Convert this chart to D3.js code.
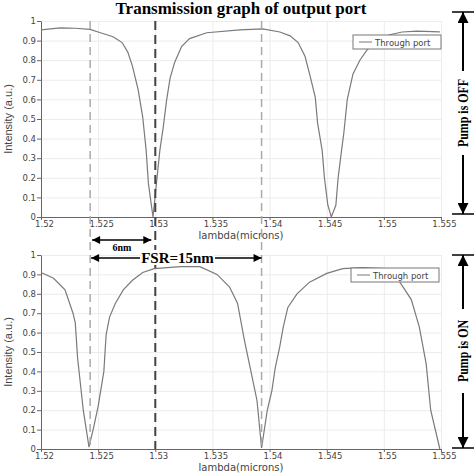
<!DOCTYPE html>
<html>
<head>
<meta charset="utf-8">
<script src="https://cdn.jsdelivr.net/npm/d3@7"></script>
<style>
  body { margin: 0; background: #fff; }
  svg { display: block; }
  .tick text { font-family: "DejaVu Sans", sans-serif; font-size: 8.5px; fill: #444; }
  .axis path, .axis line { stroke: #666; }
  .grid line { stroke: #ececec; }
  .grid path { display: none; }
</style>
</head>
<body>
<div class="viz"></div>
<script>
// wavelength (microns) and intensity, pump OFF
let offLambda = [1.5200, 1.5217, 1.5230, 1.5243, 1.5252, 1.5263, 1.5271, 1.5276, 1.5280, 1.5285,
	1.5289, 1.5292, 1.5294, 1.5298, 1.5301, 1.5304, 1.5307, 1.5310, 1.5313, 1.5317,
	1.5323, 1.5330, 1.5345, 1.5374, 1.5394, 1.5409, 1.5418, 1.5425, 1.5431, 1.5435,
	1.5440, 1.5442, 1.5446, 1.5448, 1.5451, 1.5454, 1.5458, 1.5460, 1.5463, 1.5465,
	1.5468, 1.5473, 1.5479, 1.5485, 1.5496, 1.5505, 1.5516, 1.5529, 1.5549];
let offIntensity = [0.955, 0.965, 0.963, 0.957, 0.94, 0.92, 0.89, 0.84, 0.77, 0.65,
	0.51, 0.34, 0.17, 0.0, 0.17, 0.34, 0.46, 0.60, 0.71, 0.79,
	0.87, 0.91, 0.94, 0.955, 0.96, 0.944, 0.924, 0.89, 0.82, 0.73,
	0.61, 0.48, 0.34, 0.20, 0.06, 0.0, 0.06, 0.20, 0.34, 0.43,
	0.60, 0.73, 0.80, 0.85, 0.91, 0.93, 0.944, 0.948, 0.945];

// pump ON
let onLambda = [1.5200, 1.5211, 1.5221, 1.5228, 1.5230, 1.5232, 1.5237, 1.5242, 1.5246, 1.5250,
	1.5255, 1.5257, 1.5260, 1.5265, 1.5272, 1.5280, 1.5289, 1.5299, 1.5322, 1.5339,
	1.5354, 1.5365, 1.5372, 1.5378, 1.5383, 1.5389, 1.5393, 1.5398, 1.5402, 1.5405,
	1.5409, 1.5412, 1.5416, 1.5424, 1.5435, 1.5450, 1.5464, 1.5481, 1.5501, 1.5514,
	1.5524, 1.5531, 1.5537, 1.5541, 1.5549];
let onIntensity = [0.91, 0.88, 0.82, 0.70, 0.65, 0.47, 0.20, 0.01, 0.11, 0.22,
	0.40, 0.59, 0.68, 0.75, 0.82, 0.87, 0.91, 0.93, 0.94, 0.94,
	0.90, 0.835, 0.75, 0.56, 0.42, 0.25, 0.005, 0.20, 0.30, 0.42,
	0.53, 0.63, 0.73, 0.80, 0.86, 0.905, 0.93, 0.935, 0.93, 0.86,
	0.77, 0.63, 0.44, 0.20, 0.0];

let xTicks = [1.52, 1.525, 1.53, 1.535, 1.54, 1.545, 1.55, 1.555];
let yTicks = [0, 0.1, 0.2, 0.3, 0.4, 0.5, 0.6, 0.7, 0.8, 0.9, 1];
// dashed guide lines: resonance with pump on, resonance with pump off, next resonance
let guides = [1.5243, 1.53, 1.5393];

let width = 474, height = 475;

let svg = d3.select('.viz').append('svg')
	.attr('width', width)
	.attr('height', height);

let x = d3.scaleLinear().domain([1.52, 1.555]).range([41, 441]);

let panels = [
	{ lambda: offLambda, value: offIntensity, y: d3.scaleLinear().domain([0, 1]).range([217, 21]), legendY: 35, legendX: 353 },
	{ lambda: onLambda, value: onIntensity, y: d3.scaleLinear().domain([0, 1]).range([449, 255]), legendY: 268, legendX: 351 }
];

let yFmt = d => d === 0 || d === 1 ? String(d) : d3.format('.1f')(d);
let xFmt = d => String(+d.toFixed(3));

panels.forEach(function(p) {
	let g = svg.append('g');
	let y = p.y;

	// grid
	g.append('g').attr('class', 'grid')
		.attr('transform', 'translate(0,' + y(0) + ')')
		.call(d3.axisBottom(x).tickValues(xTicks).tickSize(-(y(0) - y(1))).tickFormat(''));
	g.append('g').attr('class', 'grid')
		.attr('transform', 'translate(' + x(1.52) + ',0)')
		.call(d3.axisLeft(y).tickValues(yTicks).tickSize(-(x(1.555) - x(1.52))).tickFormat(''));

	// axes
	let ax = g.append('g').attr('class', 'axis')
		.attr('transform', 'translate(0,' + y(0) + ')')
		.call(d3.axisBottom(x).tickValues(xTicks).tickSize(3).tickSizeOuter(0).tickFormat(xFmt));
	ax.selectAll('.tick text').attr('dx', 3).attr('y', 4).attr('dy', '0.7em');

	let ay = g.append('g').attr('class', 'axis')
		.attr('transform', 'translate(' + x(1.52) + ',0)')
		.call(d3.axisLeft(y).tickValues(yTicks).tickSize(4).tickSizeOuter(0).tickFormat(yFmt));
	ay.selectAll('.tick text').attr('x', -5);

	// axis titles
	g.append('text')
		.attr('x', 241)
		.attr('y', y(0) + 22)
		.attr('text-anchor', 'middle')
		.style('font-family', 'DejaVu Sans, sans-serif')
		.style('font-size', '10px')
		.style('fill', '#444')
		.text('lambda(microns)');

	g.append('text')
		.attr('transform', 'translate(12,' + (y(0) + y(1)) / 2 + ') rotate(-90)')
		.attr('text-anchor', 'middle')
		.style('font-family', 'Liberation Sans, sans-serif')
		.style('font-size', '11px')
		.style('fill', '#444')
		.text('Intensity (a.u.)');

	// curve
	let pts = p.lambda.map((l, i) => [l, p.value[i]]);
	g.append('path')
		.datum(pts)
		.attr('fill', 'none')
		.attr('stroke', '#7a7a7a')
		.attr('stroke-width', 1.2)
		.attr('d', d3.line().x(d => x(d[0])).y(d => y(d[1])));

	// legend
	let lg = g.append('g').attr('transform', 'translate(' + p.legendX + ',' + p.legendY + ')');
	lg.append('rect')
		.attr('width', 88).attr('height', 14)
		.attr('fill', '#fff').attr('stroke', '#777').attr('stroke-width', 1);
	lg.append('line')
		.attr('x1', 6).attr('x2', 19).attr('y1', 7).attr('y2', 7)
		.attr('stroke', '#777').attr('stroke-width', 1);
	lg.append('text')
		.attr('x', 22).attr('y', 10.5)
		.style('font-family', 'DejaVu Sans, sans-serif')
		.style('font-size', '8.5px')
		.style('fill', '#444')
		.text('Through port');
});

// dashed guides spanning both panels
svg.selectAll('.guide')
	.data(guides)
	.enter().append('line')
	.attr('class', 'guide')
	.attr('x1', d => x(d)).attr('x2', d => x(d))
	.attr('y1', 21).attr('y2', 449)
	.attr('stroke', (d, i) => i === 1 ? '#444' : '#aaa')
	.attr('stroke-width', (d, i) => i === 1 ? 2 : 1.5)
	.attr('stroke-dasharray', (d, i) => i === 1 ? '9,5' : '8,5');

// title
svg.append('text')
	.attr('x', 241).attr('y', 14)
	.attr('text-anchor', 'middle')
	.style('font-family', 'Liberation Serif, serif')
	.style('font-weight', 'bold')
	.style('font-size', '17px')
	.text('Transmission graph of output port');

// arrow markers
let defs = svg.append('defs');
defs.append('marker')
	.attr('id', 'head')
	.attr('viewBox', '0 0 10 10')
	.attr('refX', 10).attr('refY', 5)
	.attr('markerWidth', 10).attr('markerHeight', 8)
	.attr('markerUnits', 'userSpaceOnUse')
	.attr('orient', 'auto-start-reverse')
	.append('path').attr('d', 'M0,0L10,5L0,10Z').attr('fill', '#000');
defs.append('marker')
	.attr('id', 'bighead')
	.attr('viewBox', '0 0 10 10')
	.attr('refX', 10).attr('refY', 5)
	.attr('markerWidth', 17).attr('markerHeight', 11)
	.attr('markerUnits', 'userSpaceOnUse')
	.attr('orient', 'auto-start-reverse')
	.append('path').attr('d', 'M0,0L10,5L0,10Z').attr('fill', '#000');

// 6nm arrow
svg.append('line')
	.attr('x1', x(guides[0]) + 2).attr('x2', x(guides[1]) - 4)
	.attr('y1', 240).attr('y2', 240)
	.attr('stroke', '#000').attr('stroke-width', 1.5)
	.attr('marker-start', 'url(#head)').attr('marker-end', 'url(#head)');
svg.append('text')
	.attr('x', 122).attr('y', 251)
	.attr('text-anchor', 'middle')
	.style('font-family', 'Liberation Serif, serif')
	.style('font-weight', 'bold')
	.style('font-size', '10px')
	.text('6nm');

// FSR arrow
svg.append('line')
	.attr('x1', 140).attr('x2', x(guides[0]) + 1)
	.attr('y1', 258).attr('y2', 258)
	.attr('stroke', '#000').attr('stroke-width', 1.5)
	.attr('marker-end', 'url(#head)');
svg.append('line')
	.attr('x1', 215).attr('x2', x(guides[2]))
	.attr('y1', 258).attr('y2', 258)
	.attr('stroke', '#000').attr('stroke-width', 1.5)
	.attr('marker-end', 'url(#head)');
svg.append('rect')
	.attr('x', 141).attr('y', 250).attr('width', 73).attr('height', 15)
	.attr('fill', '#fff');
svg.append('text')
	.attr('x', 177.5).attr('y', 263)
	.attr('text-anchor', 'middle')
	.style('font-family', 'Liberation Serif, serif')
	.style('font-weight', 'bold')
	.style('font-size', '15px')
	.text('FSR=15nm');

// pump state brackets
let pumps = [
	{ label: 'Pump is OFF', top: 12, bottom: 214, mid: 113 },
	{ label: 'Pump is ON', top: 255, bottom: 448, mid: 351 }
];
let px = 463;
pumps.forEach(function(p) {
	let half = 38;
	[p.top, p.bottom].forEach(yy => svg.append('line')
		.attr('x1', 452).attr('x2', 474).attr('y1', yy).attr('y2', yy)
		.attr('stroke', '#000').attr('stroke-width', 1.5));
	svg.append('line')
		.attr('x1', px).attr('x2', px).attr('y1', p.mid - half - 4).attr('y2', p.top)
		.attr('stroke', '#000').attr('stroke-width', 2)
		.attr('marker-end', 'url(#bighead)');
	svg.append('line')
		.attr('x1', px).attr('x2', px).attr('y1', p.mid + half + 4).attr('y2', p.bottom)
		.attr('stroke', '#000').attr('stroke-width', 2)
		.attr('marker-end', 'url(#bighead)');
	svg.append('text')
		.attr('transform', 'translate(' + (px + 5) + ',' + p.mid + ') rotate(-90)')
		.attr('text-anchor', 'middle')
		.attr('textLength', p.label.length > 10 ? 68 : 62)
		.attr('lengthAdjust', 'spacingAndGlyphs')
		.style('font-family', 'Liberation Serif, serif')
		.style('font-weight', 'bold')
		.style('font-size', '14px')
		.text(p.label);
});
</script>
</body>
</html>
